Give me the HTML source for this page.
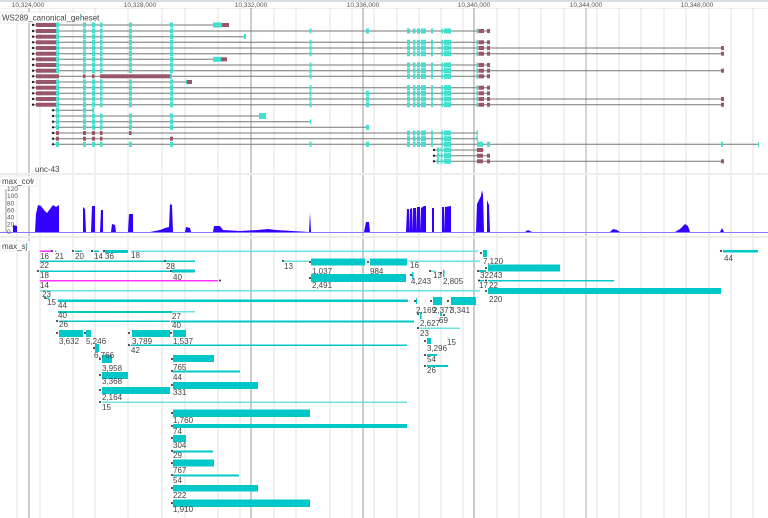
<!DOCTYPE html>
<html><head><meta charset="utf-8"><style>
html,body{margin:0;padding:0;background:#fff;}
svg{display:block;font-family:"Liberation Sans",sans-serif;}
.t{font-size:8px;fill:#444;}
.ax{font-size:6.5px;fill:#555;}
.g{stroke:#e2e2e2;stroke-width:1;}
.G{stroke:#999;stroke-width:1;}
.ln{stroke:#777;stroke-width:1;}
.c{fill:#40e0d0;}
.m{fill:#99556a;}
.s{fill:#00c8c8;}
.sl{fill:#6fe0e0;}
.mg{fill:#ff33ff;}
.d{fill:#222;}
</style></head><body>
<svg width="768" height="518" viewBox="0 0 768 518">
<defs>
<g id="L"><circle class="d" cx="33" cy="0" r="1.2"/><rect class="m" x="36" y="-2" width="20" height="4"/><rect class="c" x="56" y="-2.5" width="3" height="5"/><rect class="c" x="83" y="-2.5" width="3" height="5"/><rect class="c" x="92" y="-2.5" width="3" height="5"/><rect class="c" x="100" y="-2.5" width="2.5" height="5"/><rect class="c" x="129" y="-2.5" width="3" height="5"/><rect class="c" x="170" y="-2.5" width="3" height="5"/></g>
<g id="S"><circle class="d" cx="53" cy="0" r="1.2"/><rect class="c" x="56" y="-2.5" width="3" height="5"/><rect class="c" x="83" y="-2.5" width="3" height="5"/><rect class="c" x="92" y="-2.5" width="3" height="5"/><rect class="c" x="100" y="-2.5" width="2.5" height="5"/><rect class="c" x="129" y="-2.5" width="3" height="5"/><rect class="c" x="170" y="-2.5" width="3" height="5"/></g>
<g id="R"><rect class="c" x="407" y="-2.5" width="3" height="5"/><rect class="c" x="413" y="-2.5" width="2.5" height="5"/><rect class="c" x="417" y="-2.5" width="3" height="5"/><rect class="c" x="421" y="-2.5" width="5" height="5"/><rect class="c" x="431" y="-2.5" width="2" height="5"/><rect class="c" x="441.5" y="-2.5" width="1.5" height="5"/><rect class="c" x="444" y="-2.5" width="7" height="5"/></g>
<g id="T"><rect class="c" x="476.5" y="-2.5" width="1.5" height="5"/><rect class="m" x="478.5" y="-2" width="5.5" height="4"/><rect class="m" x="487" y="-2" width="3" height="4"/></g>
<g id="E"><rect class="m" x="721" y="-2" width="3" height="4"/></g>
</defs>
<!-- header -->
<rect x="0" y="0" width="768" height="2" fill="#d8dde2"/>
<rect x="0" y="8" width="768" height="1" fill="#eee"/>
<!-- grid -->
<g class="g">
<line x1="17" y1="8" x2="17" y2="518"/><line x1="40" y1="8" x2="40" y2="518"/><line x1="73" y1="8" x2="73" y2="518"/><line x1="95" y1="8" x2="95" y2="518"/><line x1="128" y1="8" x2="128" y2="518"/><line x1="162" y1="8" x2="162" y2="518"/><line x1="185" y1="8" x2="185" y2="518"/><line x1="218" y1="8" x2="218" y2="518"/><line x1="240" y1="8" x2="240" y2="518"/><line x1="274" y1="8" x2="274" y2="518"/><line x1="296" y1="8" x2="296" y2="518"/><line x1="330" y1="8" x2="330" y2="518"/><line x1="352" y1="8" x2="352" y2="518"/><line x1="374" y1="8" x2="374" y2="518"/><line x1="397" y1="8" x2="397" y2="518"/><line x1="419" y1="8" x2="419" y2="518"/><line x1="441" y1="8" x2="441" y2="518"/><line x1="463" y1="8" x2="463" y2="518"/><line x1="497" y1="8" x2="497" y2="518"/><line x1="519" y1="8" x2="519" y2="518"/><line x1="541" y1="8" x2="541" y2="518"/><line x1="564" y1="8" x2="564" y2="518"/><line x1="597" y1="8" x2="597" y2="518"/><line x1="619" y1="8" x2="619" y2="518"/><line x1="641" y1="8" x2="641" y2="518"/><line x1="664" y1="8" x2="664" y2="518"/><line x1="686" y1="8" x2="686" y2="518"/><line x1="709" y1="8" x2="709" y2="518"/><line x1="731" y1="8" x2="731" y2="518"/><line x1="753" y1="8" x2="753" y2="518"/>
</g>
<g class="G"><line x1="29" y1="8" x2="29" y2="518"/><line x1="251" y1="8" x2="251" y2="518"/><line x1="363" y1="8" x2="363" y2="518"/><line x1="474" y1="8" x2="474" y2="518"/><line x1="586" y1="8" x2="586" y2="518" stroke="#aaa"/></g>
<g class="ax" text-anchor="middle"><text x="28" y="7">10,324,000</text><text x="140" y="7">10,328,000</text><text x="251" y="7">10,332,000</text><text x="363" y="7">10,336,000</text><text x="474" y="7">10,340,000</text><text x="586" y="7">10,344,000</text><text x="697" y="7">10,348,000</text></g>
<!-- track 1 label -->
<rect x="0" y="12" width="84" height="11" fill="#fff" stroke="#ddd" stroke-width="0.5"/>
<text class="t" x="2" y="20.5" font-size="7.5">WS289_canonical_geneset</text>
<rect x="80" y="14" width="1.5" height="6" fill="#7ab"/>
<!-- transcripts -->
<g class="ln">
<line x1="33" y1="25" x2="229" y2="25"/><line x1="33" y1="31" x2="490" y2="31"/><line x1="33" y1="36.7" x2="246" y2="36.7"/><line x1="33" y1="42.3" x2="490" y2="42.3"/><line x1="33" y1="48" x2="723" y2="48"/><line x1="33" y1="53.7" x2="723" y2="53.7"/><line x1="33" y1="59.3" x2="227" y2="59.3"/><line x1="33" y1="65" x2="490" y2="65"/><line x1="33" y1="70.7" x2="723" y2="70.7"/><line x1="33" y1="76.3" x2="490" y2="76.3"/><line x1="33" y1="82" x2="192" y2="82"/><line x1="33" y1="87.7" x2="490" y2="87.7"/><line x1="33" y1="93.3" x2="490" y2="93.3"/><line x1="33" y1="99" x2="723" y2="99"/><line x1="33" y1="104.7" x2="723" y2="104.7"/><line x1="53" y1="110.3" x2="94" y2="110.3"/><line x1="53" y1="116" x2="266" y2="116"/><line x1="53" y1="121.7" x2="311" y2="121.7"/><line x1="53" y1="127.3" x2="368" y2="127.3"/><line x1="53" y1="133" x2="478" y2="133"/><line x1="53" y1="138.7" x2="478" y2="138.7"/><line x1="53" y1="144.3" x2="759" y2="144.3"/><line x1="435" y1="150" x2="484" y2="150"/><line x1="435" y1="155.7" x2="490" y2="155.7"/><line x1="435" y1="161.3" x2="723" y2="161.3"/>
</g>
<use href="#L" y="25"/><rect class="c" x="213" y="22.5" width="9" height="5"/><rect class="m" x="222" y="23" width="7" height="4"/>
<use href="#L" y="31"/><rect class="c" x="309.5" y="28.5" width="2" height="5"/><rect class="c" x="366" y="28.5" width="3" height="5"/><use href="#R" y="31"/><use href="#T" y="31"/>
<use href="#L" y="36.7"/><rect class="c" x="244" y="34" width="2" height="5"/>
<use href="#L" y="42.3"/><rect class="c" x="309.5" y="39.8" width="2" height="5"/><use href="#R" y="42.3"/><use href="#T" y="42.3"/>
<use href="#L" y="48"/><rect class="c" x="309.5" y="45.5" width="2" height="5"/><use href="#R" y="48"/><use href="#T" y="48"/><use href="#E" y="48"/>
<use href="#L" y="53.7"/><rect class="c" x="309.5" y="51.2" width="2" height="5"/><use href="#R" y="53.7"/><use href="#T" y="53.7"/><use href="#E" y="53.7"/>
<use href="#L" y="59.3"/><rect class="c" x="213" y="56.8" width="8" height="5"/><rect class="m" x="221" y="57.3" width="6" height="4"/>
<use href="#L" y="65"/><rect class="c" x="309.5" y="62.5" width="2" height="5"/><use href="#R" y="65"/><use href="#T" y="65"/>
<use href="#L" y="70.7"/><rect class="c" x="309.5" y="68.2" width="2" height="5"/><use href="#R" y="70.7"/><use href="#T" y="70.7"/><use href="#E" y="70.7"/>
<circle class="d" cx="33" cy="76.3" r="1.2"/><rect class="m" x="36" y="74.3" width="23" height="4"/><rect class="m" x="83" y="74.3" width="2.5" height="4"/><rect class="m" x="92" y="74.3" width="2.5" height="4"/><rect class="m" x="100" y="74.3" width="70" height="4"/><rect class="c" x="170" y="73.8" width="2" height="5"/><rect class="c" x="309.5" y="73.8" width="2" height="5"/><use href="#R" y="76.3"/><use href="#T" y="76.3"/>
<use href="#L" y="82"/><rect class="c" x="186" y="79.5" width="1" height="5"/><rect class="m" x="187" y="80" width="5" height="4"/>
<use href="#L" y="87.7"/><rect class="c" x="309.5" y="85.2" width="2" height="5"/><use href="#R" y="87.7"/><use href="#T" y="87.7"/>
<use href="#L" y="93.3"/><rect class="c" x="309.5" y="90.8" width="2" height="5"/><rect class="c" x="366" y="90.8" width="3" height="5"/><use href="#R" y="93.3"/><use href="#T" y="93.3"/>
<use href="#L" y="99"/><rect class="c" x="309.5" y="96.5" width="2" height="5"/><rect class="c" x="366" y="96.5" width="3" height="5"/><use href="#R" y="99"/><use href="#T" y="99"/><use href="#E" y="99"/>
<use href="#L" y="104.7"/><rect class="c" x="309.5" y="102.2" width="2" height="5"/><rect class="c" x="366" y="102.2" width="3" height="5"/><use href="#R" y="104.7"/><use href="#T" y="104.7"/><use href="#E" y="104.7"/>
<circle class="d" cx="53" cy="110.3" r="1.2"/><rect class="c" x="56" y="107.8" width="3" height="5"/><rect class="c" x="83" y="107.8" width="3" height="5"/><rect class="c" x="92" y="107.8" width="2" height="5"/>
<use href="#S" y="116"/><rect class="c" x="259" y="113" width="7" height="6"/>
<use href="#S" y="121.7"/><rect class="c" x="310" y="119.2" width="1" height="5"/>
<use href="#S" y="127.3"/><rect class="c" x="366" y="124.8" width="3" height="5"/>
<circle class="d" cx="53" cy="133" r="1.2"/><rect class="m" x="56" y="131" width="3" height="4"/><rect class="m" x="83" y="131" width="3" height="4"/><rect class="m" x="92" y="131" width="3" height="4"/><rect class="m" x="100" y="131" width="2.5" height="4"/><rect class="m" x="129" y="131" width="2.5" height="4"/><use href="#R" y="133"/><rect class="c" x="476.5" y="130.5" width="1.5" height="5"/>
<circle class="d" cx="53" cy="138.7" r="1.2"/><rect class="m" x="56" y="136.7" width="3" height="4"/><rect class="m" x="83" y="136.7" width="3" height="4"/><rect class="m" x="92" y="136.7" width="3" height="4"/><rect class="m" x="100" y="136.7" width="2.5" height="4"/><rect class="m" x="170" y="136.7" width="3" height="4"/><use href="#R" y="138.7"/><rect class="c" x="476.5" y="136.2" width="1.5" height="5"/>
<use href="#S" y="144.3"/><rect class="c" x="309.5" y="141.8" width="2" height="5"/><rect class="c" x="366" y="141.8" width="3" height="5"/><use href="#R" y="144.3"/><rect class="c" x="477" y="141.8" width="6" height="5"/><rect class="c" x="487" y="141.8" width="3" height="5"/><rect class="c" x="721" y="141.8" width="2" height="5"/><rect class="c" x="758" y="142" width="1" height="5"/>
<g><circle class="d" cx="434" cy="150" r="1.2"/><rect class="c" x="437" y="147.5" width="2" height="5"/><rect class="c" x="440.5" y="147.5" width="2" height="5"/><rect class="c" x="444" y="147.5" width="7" height="5"/><rect class="m" x="477" y="148" width="6" height="4"/></g>
<g><circle class="d" cx="434" cy="155.7" r="1.2"/><rect class="c" x="437" y="153.2" width="2" height="5"/><rect class="c" x="440.5" y="153.2" width="2" height="5"/><rect class="c" x="444" y="153.2" width="7" height="5"/><rect class="m" x="477" y="153.7" width="6" height="4"/><rect class="m" x="487" y="153.7" width="3" height="4"/></g>
<g><circle class="d" cx="434" cy="161.3" r="1.2"/><rect class="c" x="437" y="158.8" width="2" height="5"/><rect class="c" x="440.5" y="158.8" width="2" height="5"/><rect class="c" x="444" y="158.8" width="7" height="5"/><rect class="m" x="477" y="159.3" width="6" height="4"/><rect class="m" x="487" y="159.3" width="3" height="4"/><use href="#E" y="161.3"/></g>
<text class="t" x="35" y="172" font-size="7.5">unc-43</text>
<!-- separator -->
<rect x="0" y="173" width="768" height="2" fill="#eee"/>
<!-- coverage -->
<rect x="0" y="176" width="37" height="10" fill="#fff" stroke="#ddd" stroke-width="0.5"/>
<text class="t" x="2" y="184" font-size="7.5">max_cov</text><rect x="31" y="178" width="1.2" height="6" fill="#7ab"/>
<path fill="#3300ff" d="M0,232 L13,232 L13,225 L17,226 L17,232 L35,232 L36,214 L38,205 L41,206 L44,210 L47,213 L50,209 L53,205 L56,207 L59,205 L59,232 L83,232 L83,207 L85,209 L86,232 L91,232 L92,206 L95,206 L95,232 L100,232 L101,210 L103,210 L103,232 L111,232 L112,224 L115,225 L116,232 L128,232 L129,214 L133,214 L133,232 L150,232 L160,230 L165,228 L169,227 L170,204 L172,205 L173,232 L185,232 L186,227 L190,228 L191,232 L213,232 L214,226 L220,226 L223,230 L240,231 L258,230 L268,229 L276,230 L309,232 L310,212 L311,232 L364,232 L366,222 L369,222 L370,232 L406,232 L407,209 L409,209 L409,232 L410,209 L412,208 L412,232 L413,208 L416,208 L416,232 L417,207 L420,207 L420,232 L421,208 L424,206 L426,206 L426,232 L432,232 L432,208 L434,208 L434,232 L442,232 L442,207 L444,207 L444,232 L445,207 L451,206 L451,232 L476,232 L477,204 L479,200 L481,196 L482,190 L483,195 L484,232 L487,232 L487,200 L489,205 L490,232 L525,232 L528,230 L532,232 L610,232 L613,229 L617,230 L620,232 L675,232 L680,229 L685,224 L688,226 L690,232 L720,232 L722,228 L724,232 L768,232 Z"/>
<line x1="0" y1="232.5" x2="768" y2="232.5" stroke="#8877ff" stroke-width="1"/>
<line x1="6" y1="189" x2="6" y2="232" stroke="#555" stroke-width="0.6"/>
<g class="ax" font-size="6"><text x="7" y="191">120</text><text x="7" y="198">100</text><text x="7" y="205.5">80</text><text x="7" y="212.5">60</text><text x="7" y="219.5">40</text><text x="7" y="226.5">20</text><text x="7" y="234">0</text></g>
<rect x="0" y="236" width="768" height="2" fill="#eee"/>
<!-- sj -->
<rect x="0" y="241" width="30" height="10" fill="#fff" stroke="#ddd" stroke-width="0.5"/>
<text class="t" x="2" y="249" font-size="7.5">max_sj</text><rect x="26" y="243" width="1.2" height="6" fill="#7ab"/>
<g>
<rect class="mg" x="40" y="250.5" width="11" height="1.5"/><circle class="d" cx="52" cy="251" r="1"/><rect class="s" x="55" y="250.5" width="1.5" height="1.5"/>
<circle class="d" cx="73" cy="251" r="1"/><rect class="s" x="75" y="250.5" width="7" height="1.5"/>
<circle class="d" cx="92" cy="251" r="1"/><rect class="s" x="94" y="250.5" width="5" height="1.5"/>
<circle class="d" cx="104" cy="251" r="1"/><rect class="s" x="105" y="250" width="23" height="3"/>
<rect class="sl" x="131" y="250.5" width="347" height="1.5"/>
<circle class="d" cx="481" cy="253" r="1"/><rect class="s" x="483" y="250" width="4" height="7"/>
<circle class="d" cx="721" cy="251" r="1"/><rect class="s" x="723" y="250" width="35" height="2.5"/>

<rect class="s" x="40" y="260.5" width="155" height="1.5"/><circle class="d" cx="165" cy="261" r="1"/><rect class="s" x="167" y="260.5" width="4" height="1.5"/>
<circle class="d" cx="283" cy="261" r="1"/><rect class="sl" x="284" y="260.5" width="25" height="1.5"/>
<circle class="d" cx="310" cy="262" r="1"/><rect class="s" x="311" y="258.5" width="54" height="7"/>
<circle class="d" cx="368" cy="262" r="1"/><rect class="s" x="370" y="258.5" width="37" height="7"/>
<rect class="sl" x="409" y="260.5" width="71" height="1.5"/>

<circle class="d" cx="38" cy="271" r="1"/><rect class="s" x="40" y="270.5" width="131" height="1.5"/><circle class="d" cx="171" cy="271" r="1"/><rect class="s" x="172" y="269.5" width="23" height="3"/>
<circle class="d" cx="310" cy="278" r="1"/><rect class="s" x="311" y="274" width="95" height="8"/>
<circle class="d" cx="411" cy="275" r="1"/><rect class="s" x="412" y="272" width="1.5" height="7"/>
<circle class="d" cx="430" cy="271" r="1"/><rect class="sl" x="431" y="270.5" width="5" height="1.5"/>
<circle class="d" cx="441" cy="273" r="1"/><rect class="s" x="443" y="270" width="1.5" height="7"/>
<circle class="d" cx="478" cy="271" r="1"/><rect class="s" x="479" y="270" width="7" height="2"/>
<circle class="d" cx="486" cy="268" r="1"/><rect class="s" x="488" y="264.5" width="72" height="7"/>

<rect class="mg" x="40" y="280" width="178" height="1.5"/><circle class="d" cx="220" cy="280.5" r="1"/>
<circle class="d" cx="479" cy="280.5" r="1"/><rect class="s" x="480" y="280" width="4" height="1.5"/>
<circle class="d" cx="486" cy="280.5" r="1"/><rect class="s" x="488" y="280" width="126" height="1.5"/>
<rect class="sl" x="40" y="290" width="440" height="1.5"/>
<circle class="d" cx="486" cy="291" r="1"/><rect class="s" x="488" y="288" width="233" height="6"/>
<circle class="d" cx="45" cy="298" r="1"/><rect class="s" x="46" y="297.5" width="3" height="1.5"/>

<rect class="s" x="58" y="299.5" width="350" height="2.5"/><circle class="d" cx="415" cy="301" r="1"/><rect class="s" x="416" y="298" width="1" height="6"/>
<circle class="d" cx="431" cy="301" r="1"/><rect class="s" x="433" y="297" width="9" height="8"/>
<circle class="d" cx="448" cy="301" r="1"/><rect class="s" x="451" y="297" width="25" height="8"/>
<rect class="s" x="58" y="311" width="114" height="2"/><rect class="sl" x="172" y="311" width="23" height="1.5"/>
<circle class="d" cx="57" cy="321" r="1"/><rect class="s" x="59" y="320.5" width="111" height="1.5"/><rect class="s" x="171" y="320.5" width="243" height="2"/>
<circle class="d" cx="418" cy="314" r="1"/><rect class="s" x="420" y="312" width="1.5" height="7"/>
<circle class="d" cx="444" cy="315" r="1"/><rect class="s" x="440" y="313" width="2" height="3"/>
<circle class="d" cx="418" cy="328" r="1"/><rect class="sl" x="420" y="327.5" width="40" height="1.5"/>

<circle class="d" cx="57" cy="333" r="1"/><rect class="s" x="59" y="330" width="24" height="7"/><circle class="d" cx="85" cy="333" r="1"/><rect class="s" x="86" y="330" width="5" height="7"/>
<circle class="d" cx="129" cy="333" r="1"/><rect class="s" x="132" y="330" width="38" height="7"/><circle class="d" cx="171" cy="333" r="1"/><rect class="s" x="173" y="330" width="13" height="7"/>
<circle class="d" cx="425" cy="341" r="1"/><rect class="s" x="427" y="338" width="4" height="6"/><rect class="sl" x="447" y="337.5" width="2" height="1"/>
<circle class="d" cx="129" cy="345" r="1"/><rect class="s" x="131" y="344.5" width="276" height="1.5"/>
<circle class="d" cx="94" cy="348" r="1"/><rect class="s" x="95" y="344" width="4" height="8"/>
<circle class="d" cx="100" cy="359" r="1"/><rect class="s" x="102" y="355" width="10" height="8"/>
<circle class="d" cx="172" cy="359" r="1"/><rect class="s" x="173" y="355" width="41" height="7"/>
<circle class="d" cx="425" cy="355" r="1"/><rect class="s" x="427" y="354" width="10" height="2"/>
<circle class="d" cx="425" cy="366" r="1"/><rect class="s" x="427" y="365" width="21" height="2"/>
<circle class="d" cx="172" cy="371" r="1"/><rect class="s" x="173" y="370.5" width="67" height="2"/>
<circle class="d" cx="100" cy="375" r="1"/><rect class="s" x="102" y="372" width="26" height="7"/>
<circle class="d" cx="172" cy="385" r="1"/><rect class="s" x="173" y="382" width="85" height="7"/>
<circle class="d" cx="100" cy="390" r="1"/><rect class="s" x="102" y="387" width="68" height="7"/>
<circle class="d" cx="100" cy="402" r="1"/><rect class="sl" x="102" y="401.5" width="305" height="1.5"/>
<circle class="d" cx="172" cy="413" r="1"/><rect class="s" x="173" y="409.5" width="137" height="7.5"/>
<circle class="d" cx="172" cy="426" r="1"/><rect class="s" x="173" y="424" width="234" height="4"/>
<circle class="d" cx="172" cy="438" r="1"/><rect class="s" x="173" y="435" width="13" height="7"/>
<circle class="d" cx="172" cy="451" r="1"/><rect class="s" x="173" y="450.5" width="40" height="2"/>
<circle class="d" cx="172" cy="463" r="1"/><rect class="s" x="173" y="459.5" width="41" height="7"/>
<circle class="d" cx="172" cy="475" r="1"/><rect class="s" x="173" y="474.5" width="66" height="2"/>
<circle class="d" cx="172" cy="488" r="1"/><rect class="s" x="173" y="485" width="85" height="6.5"/>
<circle class="d" cx="172" cy="503" r="1"/><rect class="s" x="173" y="499.5" width="137" height="7.5"/>
</g>
<g class="t" font-size="7.5">
<text x="40" y="259">16</text><text x="55" y="259">21</text><text x="75" y="259">20</text><text x="94" y="259">14</text><text x="105" y="259">36</text><text x="131" y="258">18</text><text x="483" y="264">7,120</text><text x="724" y="261">44</text>
<text x="40" y="268">22</text><text x="166" y="269">28</text><text x="284" y="269">13</text><text x="312" y="274">1,037</text><text x="370" y="274">984</text><text x="410" y="268">16</text>
<text x="40" y="278">18</text><text x="173" y="280">40</text><text x="312" y="288">2,491</text><text x="411" y="284">4,243</text><text x="433" y="278">13</text><text x="443" y="284">2,805</text><text x="480" y="278">32</text><text x="489" y="278">243</text>
<text x="40" y="288">14</text><text x="479" y="288">17</text><text x="489" y="288">22</text>
<text x="42" y="297">23</text><text x="47" y="305">15</text><text x="489" y="302">220</text>
<text x="58" y="308">44</text><text x="416" y="313">2,169</text><text x="433" y="313">2,377</text><text x="450" y="313">3,341</text>
<text x="58" y="318">40</text><text x="172" y="319">27</text><text x="439" y="323">69</text><text x="420" y="326">2,627</text>
<text x="59" y="327">26</text><text x="172" y="328">40</text><text x="420" y="336">23</text>
<text x="59" y="344">3,632</text><text x="86" y="344">5,246</text><text x="132" y="344">3,789</text><text x="173" y="344">1,537</text><text x="447" y="345">15</text><text x="427" y="351">3,296</text>
<text x="131" y="353">42</text><text x="94" y="358">6,766</text><text x="427" y="362">54</text>
<text x="102" y="371">3,958</text><text x="173" y="370">765</text><text x="427" y="373">26</text>
<text x="173" y="380">44</text><text x="102" y="384">3,368</text><text x="173" y="395">331</text><text x="102" y="400">2,164</text><text x="102" y="410">15</text>
<text x="173" y="423">1,760</text><text x="173" y="434">74</text><text x="173" y="448">304</text><text x="173" y="458">29</text><text x="173" y="473">767</text><text x="173" y="483">54</text><text x="173" y="498">222</text><text x="173" y="512">1,910</text>
</g>
</svg>
</body></html>
